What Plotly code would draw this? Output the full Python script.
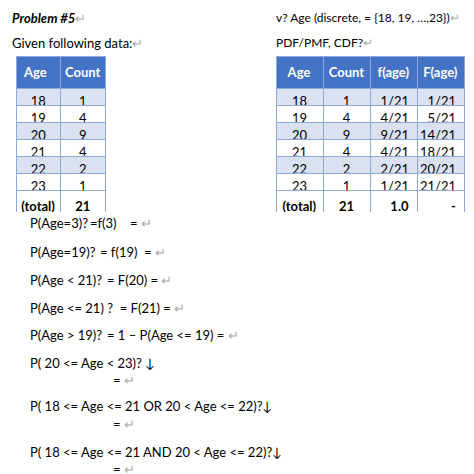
import plotly.graph_objects as go

ages = ["18", "19", "20", "21", "22", "23", "(total)"]
counts = ["1", "4", "9", "4", "2", "1", "21"]
f_age = ["1/21", "4/21", "9/21", "4/21", "2/21", "1/21", "1.0"]
F_age = ["1/21", "5/21", "14/21", "18/21", "20/21", "21/21", "-"]

W = H = 474
FONT = "Lato"
HEAD = "#4472C4"
BAND = "#D9E1F2"
LINE = "#8EA9DB"

def fills(n):
    return [BAND if i % 2 == 0 else "white" for i in range(n - 1)] + ["white"]

def bold_last(vals):
    return vals[:-1] + ["<b>" + vals[-1] + "</b>"]

fig = go.Figure()
rowfill = fills(len(ages))
fig.add_trace(go.Table(
    domain=dict(x=[8 / W, 97 / W], y=[1 - 205 / H, 1 - 48 / H]),
    header=dict(values=["<b>Age</b>", "<b>Count</b>"], fill_color=HEAD,
                font=dict(color="white", size=13, family=FONT), align=["left", "center"],
                line_color=LINE, height=17),
    cells=dict(values=[bold_last(ages), bold_last(counts)], fill_color=[rowfill, rowfill],
               font=dict(color="black", size=13, family=FONT), align=["center", "center"],
               line_color=LINE, height=17),
))
fig.add_trace(go.Table(
    domain=dict(x=[268 / W, 456 / W], y=[1 - 205 / H, 1 - 48 / H]),
    header=dict(values=["<b>Age</b>", "<b>Count</b>", "<b>f(age)</b>", "<b>F(age)</b>"],
                fill_color=HEAD, font=dict(color="white", size=13, family=FONT),
                align="center", line_color=LINE, height=17),
    cells=dict(values=[bold_last(ages), bold_last(counts), bold_last(f_age), bold_last(F_age)],
               fill_color=[rowfill] * 4, font=dict(color="black", size=13, family=FONT),
               align=["center", "center", "right", "right"], line_color=LINE, height=17),
))

G = "<span style='color:#aaa'>↵</span>"
texts = [
    (2, 10, "<b><i>Problem #5</i></b>" + G, 13),
    (2, 35, "Given following data:" + G, 13),
    (266, 10, "v? Age (discrete, = {18, 19, …,23})" + G, 12),
    (266, 35, "PDF/PMF, CDF?" + G, 12),
    (20, 215, "P(Age=3)?", 13), (80, 215, "=f(3)    = " + G, 13),
    (20, 244, "P(Age=19)?", 13), (90, 244, "= f(19)  = " + G, 13),
    (20, 272, "P(Age < 21)?", 13), (97, 272, "= F(20) = " + G, 13),
    (20, 300, "P(Age <= 21) ?  = F(21) = " + G, 13),
    (20, 327, "P(Age > 19)?", 13), (97, 327, "= 1 – P(Age <= 19) = " + G, 13),
    (20, 355, "P( 20 <= Age < 23)? ↓", 13), (103, 372, "= " + G, 13),
    (20, 398, "P( 18 <= Age <= 21 OR 20 < Age <= 22)?↓", 13), (103, 416, "= " + G, 13),
    (20, 444, "P( 18 <= Age <= 21 AND 20 < Age <= 22)?↓", 13), (103, 461, "= " + G, 13),
]
for x, y, t, s in texts:
    fig.add_annotation(x=x / W, y=1 - y / H, xref="paper", yref="paper", text=t,
                       showarrow=False, xanchor="left", yanchor="middle",
                       font=dict(size=s, family=FONT, color="black"))

fig.update_layout(width=W, height=H, margin=dict(l=0, r=0, t=0, b=0),
                  paper_bgcolor="white", plot_bgcolor="white")
fig.write_html("out.html")
